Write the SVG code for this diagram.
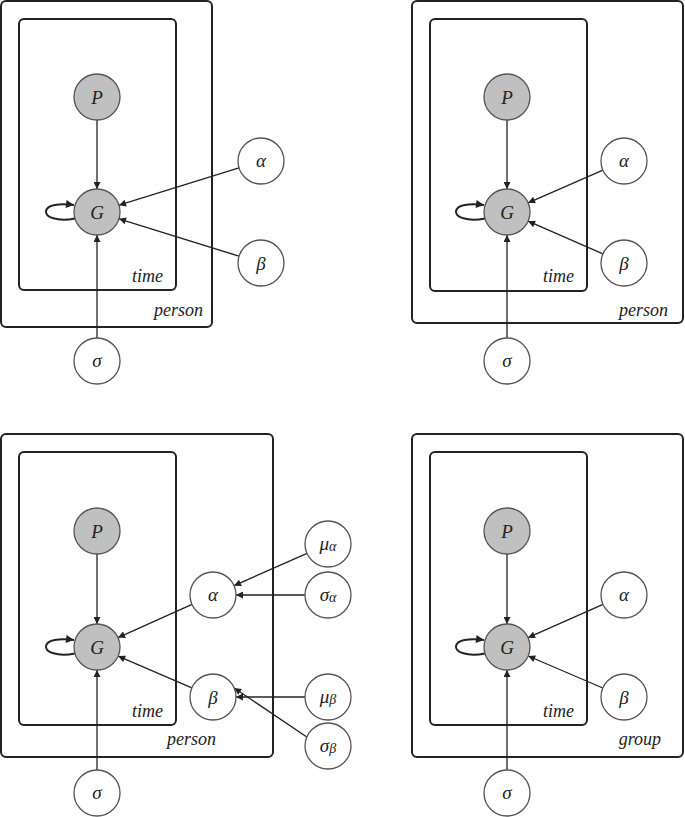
<svg xmlns="http://www.w3.org/2000/svg" width="685" height="817" viewBox="0 0 685 817">
<defs>
<marker id="ah" viewBox="0 0 10 10" refX="10" refY="5" markerWidth="9" markerHeight="7" markerUnits="userSpaceOnUse" orient="auto">
<path d="M0,0 L10,5 L0,10 Z" fill="#222"/>
</marker>
<marker id="ahl" viewBox="0 0 10 10" refX="10" refY="5" markerWidth="9" markerHeight="8" markerUnits="userSpaceOnUse" orient="auto">
<path d="M0,0 L10,5 L0,10 Z" fill="#222"/>
</marker>
</defs>
<style>
.plate{fill:none;stroke:#222;stroke-width:2}
.obs{fill:#c0c0c0;stroke:#555;stroke-width:1.3}
.lat{fill:#fff;stroke:#555;stroke-width:1.3}
.edge{fill:none;stroke:#222;stroke-width:1.3;marker-end:url(#ah)}
.loop{fill:none;stroke:#222;stroke-width:2;marker-end:url(#ahl)}
.lbl{font-family:'Liberation Serif','Times New Roman',serif;font-style:italic;fill:#222;font-size:19px;text-anchor:middle;dominant-baseline:central}
.plbl{font-family:'Liberation Serif','Times New Roman',serif;font-style:italic;fill:#222;font-size:18px;text-anchor:end}
.sub{font-size:14px}
</style>

<!-- Panel 1 -->
<g id="panel1">
<g id="p1-plate-person"><rect class="plate" x="1" y="1" width="211" height="326" rx="5"/><text class="plbl" x="203" y="316">person</text></g>
<g id="p1-plate-time"><rect class="plate" x="19" y="19" width="157" height="271" rx="5"/><text class="plbl" x="163" y="282">time</text></g>
<g id="p1-connectors">
<line class="edge" x1="97" y1="120" x2="97" y2="189"/>
<line class="edge" x1="97" y1="338" x2="97" y2="235"/>
<line class="edge" x1="239" y1="167.8" x2="119" y2="205.2"/>
<line class="edge" x1="239" y1="256.2" x2="119" y2="218.8"/>
<path class="loop" transform="translate(97,212)" d="M -22 6.5 C -40 10, -52 5, -51 -1 C -50 -7, -38 -9, -23 -7"/>
</g>
<g id="p1-P"><circle class="obs" cx="97" cy="97" r="23"/><text class="lbl" x="97" y="97">P</text></g>
<g id="p1-G"><circle class="obs" cx="97" cy="212" r="23"/><text class="lbl" x="97" y="212">G</text></g>
<g id="p1-alpha"><circle class="lat" cx="261" cy="161" r="23"/><text class="lbl" x="261" y="160">α</text></g>
<g id="p1-beta"><circle class="lat" cx="261" cy="263" r="23"/><text class="lbl" x="261" y="263">β</text></g>
<g id="p1-sigma"><circle class="lat" cx="97" cy="361" r="23"/><text class="lbl" x="97" y="360">σ</text></g>
</g>

<!-- Panel 2 -->
<g id="panel2">
<g id="p2-plate-person"><rect class="plate" x="412" y="1" width="271" height="322" rx="5"/><text class="plbl" x="668" y="316">person</text></g>
<g id="p2-plate-time"><rect class="plate" x="430" y="19" width="157" height="272" rx="5"/><text class="plbl" x="574" y="282">time</text></g>
<g id="p2-connectors">
<line class="edge" x1="507" y1="120" x2="507" y2="189"/>
<line class="edge" x1="507" y1="338" x2="507" y2="235"/>
<line class="edge" x1="602.9" y1="170.2" x2="528.1" y2="202.8"/>
<line class="edge" x1="602.9" y1="253.8" x2="528.1" y2="221.2"/>
<path class="loop" transform="translate(507,212)" d="M -22 6.5 C -40 10, -52 5, -51 -1 C -50 -7, -38 -9, -23 -7"/>
</g>
<g id="p2-P"><circle class="obs" cx="507" cy="97" r="23"/><text class="lbl" x="507" y="97">P</text></g>
<g id="p2-G"><circle class="obs" cx="507" cy="212" r="23"/><text class="lbl" x="507" y="212">G</text></g>
<g id="p2-alpha"><circle class="lat" cx="624" cy="161" r="23"/><text class="lbl" x="624" y="160">α</text></g>
<g id="p2-beta"><circle class="lat" cx="624" cy="263" r="23"/><text class="lbl" x="624" y="263">β</text></g>
<g id="p2-sigma"><circle class="lat" cx="507" cy="361" r="23"/><text class="lbl" x="507" y="360">σ</text></g>
</g>

<!-- Panel 3 -->
<g id="panel3">
<g id="p3-plate-person"><rect class="plate" x="1" y="434" width="272" height="323" rx="5"/><text class="plbl" x="216" y="745">person</text></g>
<g id="p3-plate-time"><rect class="plate" x="19" y="452" width="157" height="273" rx="5"/><text class="plbl" x="163" y="717">time</text></g>
<g id="p3-connectors">
<line class="edge" x1="97" y1="554" x2="97" y2="624"/>
<line class="edge" x1="97" y1="770" x2="97" y2="670"/>
<line class="edge" x1="192" y1="604.4" x2="118" y2="637.6"/>
<line class="edge" x1="191.9" y1="687.9" x2="118.1" y2="656.1"/>
<line class="edge" x1="307" y1="553.3" x2="234" y2="585.7"/>
<line class="edge" x1="305" y1="595" x2="236" y2="595"/>
<line class="edge" x1="305" y1="697" x2="236" y2="697"/>
<line class="edge" x1="306.8" y1="737" x2="234.2" y2="688"/>
<path class="loop" transform="translate(97,647)" d="M -22 6.5 C -40 10, -52 5, -51 -1 C -50 -7, -38 -9, -23 -7"/>
</g>
<g id="p3-P"><circle class="obs" cx="97" cy="531" r="23"/><text class="lbl" x="97" y="531">P</text></g>
<g id="p3-G"><circle class="obs" cx="97" cy="647" r="23"/><text class="lbl" x="97" y="647">G</text></g>
<g id="p3-alpha"><circle class="lat" cx="213" cy="595" r="23"/><text class="lbl" x="213" y="594">α</text></g>
<g id="p3-beta"><circle class="lat" cx="213" cy="697" r="23"/><text class="lbl" x="213" y="697">β</text></g>
<g id="p3-sigma"><circle class="lat" cx="97" cy="793" r="23"/><text class="lbl" x="97" y="792">σ</text></g>
<g id="p3-mu-alpha"><circle class="lat" cx="328" cy="544" r="23"/><text class="lbl" x="328" y="543">μ<tspan class="sub" dy="3">α</tspan></text></g>
<g id="p3-sigma-alpha"><circle class="lat" cx="328" cy="595" r="23"/><text class="lbl" x="328" y="594">σ<tspan class="sub" dy="3">α</tspan></text></g>
<g id="p3-mu-beta"><circle class="lat" cx="328" cy="697" r="23"/><text class="lbl" x="328" y="696">μ<tspan class="sub" dy="3">β</tspan></text></g>
<g id="p3-sigma-beta"><circle class="lat" cx="328" cy="746" r="23"/><text class="lbl" x="328" y="745">σ<tspan class="sub" dy="3">β</tspan></text></g>
</g>

<!-- Panel 4 -->
<g id="panel4">
<g id="p4-plate-group"><rect class="plate" x="412" y="434" width="271" height="323" rx="5"/><text class="plbl" x="661" y="745">group</text></g>
<g id="p4-plate-time"><rect class="plate" x="430" y="452" width="157" height="273" rx="5"/><text class="plbl" x="574" y="717">time</text></g>
<g id="p4-connectors">
<line class="edge" x1="507" y1="554" x2="507" y2="624"/>
<line class="edge" x1="507" y1="770" x2="507" y2="670"/>
<line class="edge" x1="603" y1="604.3" x2="528" y2="637.7"/>
<line class="edge" x1="602.8" y1="688" x2="528.2" y2="656"/>
<path class="loop" transform="translate(507,647)" d="M -22 6.5 C -40 10, -52 5, -51 -1 C -50 -7, -38 -9, -23 -7"/>
</g>
<g id="p4-P"><circle class="obs" cx="507" cy="531" r="23"/><text class="lbl" x="507" y="531">P</text></g>
<g id="p4-G"><circle class="obs" cx="507" cy="647" r="23"/><text class="lbl" x="507" y="647">G</text></g>
<g id="p4-alpha"><circle class="lat" cx="624" cy="595" r="23"/><text class="lbl" x="624" y="594">α</text></g>
<g id="p4-beta"><circle class="lat" cx="624" cy="697" r="23"/><text class="lbl" x="624" y="697">β</text></g>
<g id="p4-sigma"><circle class="lat" cx="507" cy="793" r="23"/><text class="lbl" x="507" y="792">σ</text></g>
</g>
</svg>
